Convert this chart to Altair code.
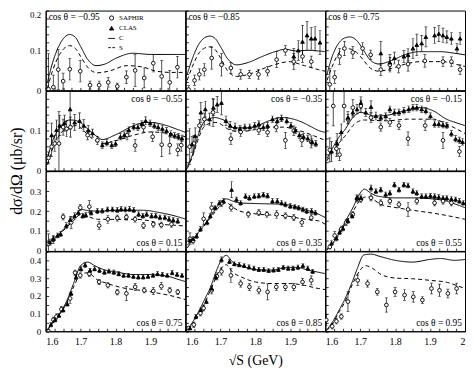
import altair as alt
import pandas as pd

SERIF = "Liberation Serif"

COS_LABELS = ["cos θ = −0.95", "cos θ = −0.85", "cos θ = −0.75",
              "cos θ = −0.55", "cos θ = −0.35", "cos θ = −0.15",
              "cos θ = 0.15", "cos θ = 0.35", "cos θ = 0.55",
              "cos θ = 0.75", "cos θ = 0.85", "cos θ = 0.95"]
ROW_YMAX = [0.2, 0.2, 0.4, 0.45]
SERIES = ["SAPHIR", "CLAS", "C", "S"]

# ---------------- SAPHIR (open circles) ----------------
SAPHIR_X = [
    [1.608, 1.622, 1.636, 1.650, 1.669, 1.699, 1.727, 1.753, 1.779, 1.805, 1.831, 1.856, 1.882, 1.908, 1.932, 1.955, 1.977],
    [1.609, 1.626, 1.640, 1.654, 1.675, 1.703, 1.730, 1.758, 1.783, 1.809, 1.835, 1.861, 1.886, 1.910, 1.935, 1.960],
    [1.613, 1.627, 1.641, 1.655, 1.679, 1.707, 1.730, 1.759, 1.785, 1.810, 1.837, 1.885, 1.937, 1.961, 1.986],
    [1.608, 1.617, 1.626, 1.638, 1.650, 1.660, 1.671, 1.720, 1.748, 1.833, 1.856, 1.880, 1.906, 1.932, 1.955, 1.978, 1.988],
    [1.612, 1.624, 1.640, 1.654, 1.679, 1.730, 1.758, 1.810, 1.835, 1.860, 1.886, 1.910, 1.933, 1.960],
    [1.613, 1.623, 1.632, 1.641, 1.654, 1.665, 1.679, 1.702, 1.731, 1.759, 1.785, 1.811, 1.837, 1.886, 1.937, 1.984],
    [1.608, 1.622, 1.650, 1.673, 1.699, 1.725, 1.753, 1.778, 1.805, 1.831, 1.856, 1.880, 1.908, 1.931, 1.960],
    [1.613, 1.622, 1.652, 1.675, 1.703, 1.731, 1.780, 1.810, 1.833, 1.861, 1.886, 1.910, 1.933, 1.960],
    [1.613, 1.627, 1.646, 1.660, 1.679, 1.691, 1.702, 1.731, 1.759, 1.785, 1.811, 1.837, 1.862, 1.913, 1.937, 1.961],
    [1.608, 1.622, 1.631, 1.645, 1.670, 1.684, 1.699, 1.725, 1.753, 1.778, 1.805, 1.831, 1.856, 1.882, 1.908, 1.931, 1.955, 1.978],
    [1.609, 1.624, 1.643, 1.652, 1.675, 1.690, 1.703, 1.730, 1.758, 1.783, 1.810, 1.835, 1.860, 1.886, 1.910, 1.935, 1.960],
    [1.603, 1.620, 1.632, 1.646, 1.665, 1.693, 1.721, 1.749, 1.775, 1.800, 1.827, 1.852, 1.878, 1.904, 1.927, 1.951, 1.976],
]
SAPHIR_Y = [
    [0.003, 0.008, 0.052, 0.023, 0.053, 0.048, 0.013, 0.013, 0.020, 0.010, 0.033, 0.050, 0.031, 0.068, 0.035, 0.020, 0.058],
    [0.002, 0.025, 0.040, 0.052, 0.081, 0.064, 0.056, 0.040, 0.040, 0.040, 0.048, 0.077, 0.100, 0.072, 0.085, 0.072],
    [0.015, 0.033, 0.085, 0.105, 0.095, 0.105, 0.089, 0.052, 0.064, 0.060, 0.066, 0.074, 0.072, 0.072, 0.052],
    [0.032, 0.060, 0.068, 0.068, 0.109, 0.105, 0.109, 0.089, 0.076, 0.089, 0.063, 0.109, 0.085, 0.065, 0.064, 0.052, 0.064],
    [0.060, 0.068, 0.113, 0.129, 0.146, 0.080, 0.097, 0.101, 0.096, 0.109, 0.076, 0.100, 0.076, 0.072],
    [0.052, 0.162, 0.055, 0.040, 0.162, 0.129, 0.158, 0.162, 0.133, 0.109, 0.121, 0.113, 0.080, 0.113, 0.076, 0.048],
    [0.036, 0.057, 0.171, 0.143, 0.217, 0.222, 0.127, 0.159, 0.165, 0.170, 0.159, 0.127, 0.134, 0.130, 0.134],
    [0.061, 0.050, 0.161, 0.217, 0.238, 0.217, 0.184, 0.192, 0.184, 0.184, 0.176, 0.167, 0.143, 0.167],
    [0.020, 0.077, 0.110, 0.143, 0.184, 0.261, 0.258, 0.266, 0.241, 0.250, 0.233, 0.208, 0.250, 0.241, 0.250, 0.241],
    [0.000, 0.065, 0.083, 0.124, 0.185, 0.330, 0.315, 0.324, 0.278, 0.259, 0.220, 0.213, 0.250, 0.231, 0.227, 0.254, 0.231, 0.222],
    [0.018, 0.037, 0.102, 0.130, 0.231, 0.310, 0.337, 0.315, 0.269, 0.250, 0.231, 0.222, 0.250, 0.250, 0.250, 0.278, 0.287],
    [0.064, 0.028, 0.056, 0.083, 0.167, 0.287, 0.269, 0.222, 0.148, 0.222, 0.204, 0.194, 0.176, 0.241, 0.231, 0.213, 0.241],
]
SAPHIR_E = [
    [0.090, 0.030, 0.050, 0.020, 0.027, 0.027, 0.010, 0.010, 0.012, 0.008, 0.016, 0.040, 0.025, 0.022, 0.040, 0.030, 0.027],
    [0.010, 0.013, 0.014, 0.016, 0.028, 0.028, 0.014, 0.012, 0.010, 0.012, 0.012, 0.020, 0.012, 0.020, 0.015, 0.014],
    [0.040, 0.016, 0.020, 0.018, 0.015, 0.015, 0.012, 0.015, 0.018, 0.016, 0.018, 0.016, 0.012, 0.012, 0.012],
    [0.015, 0.025, 0.020, 0.080, 0.020, 0.020, 0.025, 0.012, 0.010, 0.012, 0.015, 0.012, 0.012, 0.030, 0.022, 0.015, 0.015],
    [0.045, 0.020, 0.015, 0.015, 0.035, 0.014, 0.012, 0.010, 0.010, 0.012, 0.020, 0.012, 0.015, 0.015],
    [0.030, 0.050, 0.020, 0.015, 0.040, 0.012, 0.020, 0.015, 0.012, 0.010, 0.010, 0.010, 0.017, 0.012, 0.020, 0.012],
    [0.050, 0.020, 0.015, 0.030, 0.015, 0.030, 0.020, 0.020, 0.015, 0.015, 0.015, 0.015, 0.015, 0.015, 0.015],
    [0.030, 0.015, 0.030, 0.025, 0.015, 0.018, 0.015, 0.015, 0.015, 0.020, 0.015, 0.015, 0.020, 0.015],
    [0.010, 0.020, 0.015, 0.015, 0.015, 0.015, 0.015, 0.015, 0.015, 0.015, 0.015, 0.035, 0.015, 0.015, 0.015, 0.015],
    [0.010, 0.015, 0.015, 0.015, 0.030, 0.015, 0.015, 0.015, 0.015, 0.015, 0.015, 0.040, 0.020, 0.015, 0.020, 0.020, 0.015, 0.015],
    [0.010, 0.015, 0.015, 0.015, 0.020, 0.020, 0.020, 0.040, 0.020, 0.020, 0.020, 0.045, 0.020, 0.020, 0.020, 0.020, 0.025],
    [0.030, 0.015, 0.015, 0.015, 0.055, 0.030, 0.020, 0.018, 0.040, 0.025, 0.030, 0.030, 0.020, 0.030, 0.035, 0.025, 0.030],
]

# ---------------- CLAS (filled triangles) ----------------
CLAS_X = [
    [],
    [1.910, 1.923, 1.935, 1.948, 1.960, 1.971, 1.985],
    [1.759, 1.785, 1.798, 1.825, 1.837, 1.851, 1.862, 1.876, 1.888, 1.913, 1.925, 1.937, 1.948, 1.961, 1.977, 1.986],
    [1.617, 1.631, 1.640, 1.654, 1.670, 1.683, 1.697, 1.709, 1.722, 1.734,
     1.762, 1.775, 1.789, 1.800, 1.814, 1.825, 1.838, 1.852, 1.864, 1.875,
     1.886, 1.899, 1.911, 1.922, 1.934, 1.946, 1.958, 1.969, 1.980, 1.990],
    [1.619, 1.628, 1.644, 1.657, 1.669, 1.680, 1.691, 1.703, 1.716, 1.728,
     1.742, 1.756, 1.770, 1.784, 1.798, 1.810, 1.823, 1.835, 1.849, 1.863,
     1.875, 1.890, 1.902, 1.915, 1.926, 1.938, 1.950, 1.962, 1.973],
    [1.618, 1.634, 1.646, 1.665, 1.679, 1.691, 1.702, 1.716, 1.731, 1.745,
     1.759, 1.773, 1.785, 1.798, 1.811, 1.825, 1.839, 1.851, 1.862, 1.876,
     1.888, 1.901, 1.913, 1.925, 1.937, 1.948, 1.961, 1.973, 1.984, 1.993],
    [1.612, 1.622, 1.634, 1.643, 1.659, 1.670, 1.683, 1.694, 1.706, 1.715,
     1.730, 1.748, 1.762, 1.777, 1.791, 1.805, 1.816, 1.828, 1.840, 1.852,
     1.866, 1.878, 1.889, 1.903, 1.915, 1.927, 1.941, 1.953, 1.965, 1.978],
    [1.613, 1.622, 1.632, 1.643, 1.662, 1.671, 1.685, 1.697, 1.709, 1.732,
     1.746, 1.758, 1.772, 1.783, 1.797, 1.810, 1.823, 1.835, 1.849, 1.863,
     1.875, 1.886, 1.900, 1.913, 1.924, 1.936, 1.947, 1.961, 1.972],
    [1.618, 1.632, 1.641, 1.651, 1.665, 1.677, 1.691, 1.702, 1.731, 1.745,
     1.759, 1.773, 1.785, 1.798, 1.811, 1.825, 1.837, 1.851, 1.862, 1.876,
     1.888, 1.901, 1.913, 1.925, 1.937, 1.948, 1.961, 1.973, 1.984, 1.995],
    [1.615, 1.627, 1.638, 1.650, 1.662, 1.673, 1.687, 1.701, 1.713, 1.727,
     1.740, 1.754, 1.768, 1.781, 1.795, 1.809, 1.823, 1.837, 1.851, 1.865,
     1.879, 1.893, 1.907, 1.920, 1.934, 1.948, 1.962, 1.976, 1.990],
    [1.613, 1.630, 1.644, 1.660, 1.675, 1.687, 1.703, 1.726, 1.740, 1.754,
     1.768, 1.782, 1.796, 1.810, 1.824, 1.838, 1.852, 1.866, 1.880, 1.894,
     1.908, 1.922, 1.936, 1.950, 1.964],
    [],
]
CLAS_Y = [
    [],
    [0.085, 0.100, 0.122, 0.138, 0.130, 0.130, 0.120],
    [0.093, 0.070, 0.081, 0.085, 0.089, 0.105, 0.114, 0.118, 0.134, 0.138, 0.142, 0.138, 0.134, 0.130, 0.105, 0.130],
    [0.089, 0.102, 0.113, 0.119, 0.154, 0.121, 0.125, 0.113, 0.101, 0.094,
     0.064, 0.070, 0.064, 0.068, 0.085, 0.089, 0.102, 0.110, 0.109, 0.117,
     0.125, 0.119, 0.113, 0.109, 0.105, 0.100, 0.092, 0.088, 0.085, 0.081],
    [0.066, 0.087, 0.146, 0.154, 0.129, 0.158, 0.166, 0.170, 0.125, 0.113,
     0.109, 0.105, 0.109, 0.109, 0.113, 0.117, 0.109, 0.113, 0.129, 0.125,
     0.131, 0.125, 0.113, 0.101, 0.089, 0.085, 0.081, 0.072, 0.068],
    [0.048, 0.068, 0.097, 0.133, 0.146, 0.154, 0.170, 0.146, 0.160, 0.137,
     0.133, 0.137, 0.154, 0.146, 0.146, 0.150, 0.154, 0.158, 0.158, 0.154,
     0.150, 0.137, 0.117, 0.117, 0.115, 0.113, 0.093, 0.080, 0.076, 0.072],
    [0.044, 0.060, 0.077, 0.085, 0.127, 0.156, 0.176, 0.192, 0.176, 0.180,
     0.192, 0.200, 0.202, 0.208, 0.208, 0.205, 0.210, 0.208, 0.210, 0.205,
     0.184, 0.176, 0.184, 0.176, 0.176, 0.168, 0.168, 0.160, 0.155, 0.150],
    [0.053, 0.060, 0.075, 0.110, 0.143, 0.176, 0.217, 0.241, 0.250, 0.307,
     0.258, 0.241, 0.274, 0.266, 0.274, 0.277, 0.282, 0.277, 0.250, 0.250,
     0.241, 0.233, 0.225, 0.222, 0.217, 0.208, 0.200, 0.200, 0.192],
    [0.039, 0.063, 0.094, 0.113, 0.151, 0.176, 0.266, 0.266, 0.315, 0.299,
     0.307, 0.283, 0.291, 0.332, 0.307, 0.332, 0.328, 0.299, 0.291, 0.274,
     0.274, 0.277, 0.274, 0.270, 0.266, 0.266, 0.261, 0.258, 0.250, 0.241],
    [0.037, 0.065, 0.089, 0.120, 0.154, 0.213, 0.306, 0.352, 0.374, 0.343,
     0.352, 0.343, 0.333, 0.339, 0.333, 0.324, 0.315, 0.315, 0.309, 0.306,
     0.306, 0.309, 0.315, 0.324, 0.320, 0.315, 0.330, 0.320, 0.315],
    [0.018, 0.083, 0.120, 0.167, 0.241, 0.306, 0.404, 0.393, 0.380, 0.375,
     0.370, 0.362, 0.355, 0.348, 0.348, 0.342, 0.345, 0.348, 0.360, 0.355,
     0.355, 0.361, 0.370, 0.355, 0.337],
    [],
]
CLAS_E = [
    [],
    [0.020, 0.025, 0.040, 0.035, 0.027, 0.030, 0.030],
    [0.030, 0.020, 0.015, 0.015, 0.015, 0.025, 0.027, 0.020, 0.025, 0.020, 0.020, 0.018, 0.015, 0.015, 0.012, 0.015],
    [0.030, 0.025, 0.025, 0.020, 0.050, 0.020, 0.020, 0.015, 0.012, 0.010,
     0.008, 0.008, 0.008, 0.008, 0.008, 0.008, 0.008, 0.008, 0.008, 0.008,
     0.010, 0.008, 0.008, 0.008, 0.008, 0.008, 0.008, 0.008, 0.008, 0.008],
    [0.020, 0.020, 0.025, 0.020, 0.015, 0.020, 0.020, 0.030, 0.012, 0.010,
     0.010, 0.008, 0.008, 0.008, 0.008, 0.008, 0.008, 0.008, 0.008, 0.008,
     0.008, 0.008, 0.008, 0.008, 0.008, 0.008, 0.008, 0.008, 0.008],
    [0.025, 0.025, 0.020, 0.015, 0.012, 0.012, 0.015, 0.010, 0.015, 0.010,
     0.008, 0.008, 0.008, 0.008, 0.008, 0.008, 0.008, 0.008, 0.008, 0.008,
     0.008, 0.008, 0.008, 0.008, 0.008, 0.008, 0.008, 0.008, 0.008, 0.008],
    [0.015, 0.012, 0.012, 0.012, 0.015, 0.015, 0.015, 0.012, 0.012, 0.012,
     0.012, 0.012, 0.012, 0.012, 0.012, 0.012, 0.012, 0.012, 0.012, 0.012,
     0.012, 0.012, 0.012, 0.012, 0.012, 0.012, 0.012, 0.012, 0.012, 0.012],
    [0.012, 0.012, 0.012, 0.012, 0.012, 0.012, 0.012, 0.012, 0.012, 0.040,
     0.012, 0.012, 0.012, 0.012, 0.012, 0.012, 0.012, 0.012, 0.012, 0.012,
     0.012, 0.012, 0.012, 0.012, 0.012, 0.012, 0.012, 0.012, 0.012],
    [0.012, 0.012, 0.012, 0.012, 0.012, 0.012, 0.015, 0.015, 0.015, 0.012,
     0.012, 0.012, 0.012, 0.012, 0.012, 0.012, 0.012, 0.012, 0.012, 0.012,
     0.012, 0.012, 0.012, 0.012, 0.012, 0.012, 0.012, 0.012, 0.012, 0.012],
    [0.012, 0.012, 0.012, 0.012, 0.012, 0.012, 0.015, 0.015, 0.015, 0.012,
     0.012, 0.012, 0.012, 0.012, 0.012, 0.012, 0.012, 0.012, 0.012, 0.012,
     0.012, 0.012, 0.012, 0.012, 0.012, 0.012, 0.012, 0.012, 0.012],
    [0.010, 0.012, 0.012, 0.012, 0.015, 0.015, 0.015, 0.012, 0.012, 0.012,
     0.012, 0.012, 0.012, 0.012, 0.012, 0.012, 0.012, 0.012, 0.012, 0.012,
     0.012, 0.012, 0.012, 0.012, 0.012],
    [],
]

# ---------------- model C (solid) ----------------
C_X = [
    [1.605, 1.620, 1.640, 1.655, 1.669, 1.685, 1.700, 1.720, 1.744, 1.770, 1.800, 1.850, 1.900, 1.950, 2.000],
    [1.605, 1.620, 1.640, 1.655, 1.670, 1.685, 1.700, 1.720, 1.746, 1.780, 1.820, 1.860, 1.886, 1.915, 1.950, 2.000],
    [1.605, 1.620, 1.640, 1.655, 1.670, 1.690, 1.710, 1.730, 1.754, 1.790, 1.830, 1.871, 1.928, 1.970, 2.000],
    [1.605, 1.620, 1.640, 1.655, 1.669, 1.685, 1.700, 1.720, 1.748, 1.762, 1.800, 1.852, 1.889, 1.920, 1.946, 1.975, 2.000],
    [1.605, 1.620, 1.635, 1.652, 1.668, 1.685, 1.700, 1.720, 1.732, 1.755, 1.793, 1.839, 1.877, 1.924, 1.960, 1.980, 2.000],
    [1.605, 1.620, 1.640, 1.655, 1.679, 1.702, 1.720, 1.740, 1.778, 1.825, 1.872, 1.909, 1.947, 1.975, 2.000],
    [1.605, 1.620, 1.640, 1.660, 1.680, 1.701, 1.730, 1.760, 1.800, 1.850, 1.880, 1.927, 1.960, 2.000],
    [1.605, 1.620, 1.640, 1.660, 1.680, 1.699, 1.717, 1.735, 1.755, 1.793, 1.840, 1.886, 1.942, 1.980, 2.000],
    [1.605, 1.630, 1.655, 1.680, 1.700, 1.712, 1.730, 1.750, 1.800, 1.860, 1.900, 1.947, 1.980, 2.000],
    [1.605, 1.620, 1.640, 1.660, 1.680, 1.700, 1.720, 1.740, 1.770, 1.800, 1.850, 1.900, 1.950, 1.975, 2.000],
    [1.605, 1.620, 1.640, 1.660, 1.670, 1.689, 1.705, 1.717, 1.735, 1.760, 1.800, 1.850, 1.886, 1.920, 1.950, 1.980, 2.000],
    [1.605, 1.620, 1.640, 1.655, 1.679, 1.693, 1.710, 1.730, 1.760, 1.800, 1.850, 1.900, 1.930, 1.970, 2.000],
]
C_Y = [
    [0.020, 0.070, 0.115, 0.134, 0.140, 0.133, 0.110, 0.078, 0.062, 0.066, 0.080, 0.093, 0.090, 0.090, 0.090],
    [0.040, 0.080, 0.118, 0.132, 0.136, 0.130, 0.110, 0.080, 0.064, 0.070, 0.085, 0.098, 0.103, 0.099, 0.100, 0.097],
    [0.040, 0.085, 0.120, 0.131, 0.134, 0.125, 0.100, 0.075, 0.066, 0.075, 0.090, 0.097, 0.097, 0.093, 0.089],
    [0.030, 0.075, 0.108, 0.122, 0.127, 0.126, 0.120, 0.105, 0.085, 0.078, 0.090, 0.113, 0.121, 0.119, 0.113, 0.104, 0.096],
    [0.010, 0.040, 0.085, 0.121, 0.130, 0.133, 0.130, 0.121, 0.109, 0.107, 0.109, 0.125, 0.133, 0.125, 0.110, 0.101, 0.096],
    [0.030, 0.055, 0.085, 0.101, 0.133, 0.146, 0.142, 0.137, 0.139, 0.150, 0.158, 0.150, 0.129, 0.120, 0.113],
    [0.030, 0.055, 0.090, 0.125, 0.165, 0.208, 0.200, 0.200, 0.204, 0.204, 0.204, 0.192, 0.180, 0.160],
    [0.030, 0.055, 0.100, 0.145, 0.195, 0.241, 0.261, 0.250, 0.241, 0.238, 0.236, 0.233, 0.208, 0.185, 0.167],
    [0.010, 0.060, 0.140, 0.220, 0.290, 0.310, 0.290, 0.275, 0.266, 0.266, 0.262, 0.250, 0.230, 0.217],
    [0.010, 0.050, 0.100, 0.170, 0.270, 0.370, 0.390, 0.370, 0.345, 0.335, 0.320, 0.320, 0.310, 0.295, 0.280],
    [0.010, 0.050, 0.120, 0.200, 0.240, 0.343, 0.410, 0.428, 0.390, 0.370, 0.348, 0.345, 0.360, 0.360, 0.345, 0.333, 0.325],
    [0.010, 0.050, 0.120, 0.176, 0.287, 0.360, 0.430, 0.435, 0.420, 0.400, 0.390, 0.405, 0.410, 0.400, 0.405],
]

# ---------------- model S (dashed) ----------------
S_X = [
    [1.605, 1.620, 1.640, 1.655, 1.669, 1.685, 1.700, 1.720, 1.748, 1.780, 1.833, 1.880, 1.917, 1.960, 2.000],
    [1.605, 1.620, 1.640, 1.655, 1.670, 1.685, 1.700, 1.720, 1.746, 1.780, 1.830, 1.870, 1.896, 1.940, 1.980, 2.000],
    [1.605, 1.620, 1.640, 1.655, 1.670, 1.690, 1.710, 1.730, 1.754, 1.790, 1.830, 1.871, 1.937, 1.970, 2.000],
    [1.605, 1.620, 1.640, 1.655, 1.669, 1.685, 1.700, 1.720, 1.748, 1.762, 1.800, 1.852, 1.900, 1.946, 1.975, 2.000],
    [1.605, 1.620, 1.635, 1.652, 1.668, 1.685, 1.700, 1.720, 1.740, 1.760, 1.800, 1.840, 1.880, 1.924, 1.960, 1.980, 2.000],
    [1.605, 1.620, 1.640, 1.655, 1.684, 1.712, 1.740, 1.778, 1.835, 1.909, 1.947, 1.975, 2.000],
    [1.605, 1.620, 1.640, 1.660, 1.680, 1.701, 1.725, 1.748, 1.800, 1.850, 1.900, 1.927, 1.960, 2.000],
    [1.605, 1.620, 1.640, 1.660, 1.680, 1.699, 1.717, 1.735, 1.755, 1.810, 1.886, 1.942, 1.980, 2.000],
    [1.605, 1.630, 1.655, 1.680, 1.700, 1.720, 1.740, 1.760, 1.800, 1.835, 1.928, 2.000],
    [1.605, 1.620, 1.640, 1.660, 1.680, 1.700, 1.720, 1.748, 1.777, 1.820, 1.870, 1.927, 1.970, 2.000],
    [1.605, 1.620, 1.640, 1.660, 1.680, 1.700, 1.717, 1.735, 1.760, 1.800, 1.850, 1.900, 1.940, 1.980, 2.000],
    [1.605, 1.620, 1.640, 1.655, 1.679, 1.700, 1.715, 1.735, 1.760, 1.800, 1.850, 1.900, 1.950, 1.980, 2.000],
]
S_Y = [
    [0.005, 0.050, 0.090, 0.107, 0.112, 0.105, 0.085, 0.058, 0.044, 0.048, 0.062, 0.058, 0.048, 0.045, 0.045],
    [0.025, 0.060, 0.095, 0.106, 0.109, 0.102, 0.082, 0.050, 0.035, 0.040, 0.057, 0.068, 0.072, 0.062, 0.052, 0.048],
    [0.025, 0.060, 0.095, 0.105, 0.104, 0.095, 0.075, 0.055, 0.048, 0.055, 0.066, 0.072, 0.072, 0.066, 0.060],
    [0.015, 0.055, 0.090, 0.104, 0.109, 0.113, 0.108, 0.090, 0.072, 0.068, 0.075, 0.089, 0.097, 0.094, 0.090, 0.085],
    [0.005, 0.035, 0.075, 0.109, 0.118, 0.121, 0.117, 0.105, 0.099, 0.098, 0.103, 0.109, 0.109, 0.101, 0.090, 0.083, 0.076],
    [0.025, 0.045, 0.070, 0.085, 0.117, 0.127, 0.126, 0.125, 0.129, 0.129, 0.117, 0.105, 0.093],
    [0.025, 0.050, 0.085, 0.118, 0.152, 0.184, 0.170, 0.159, 0.158, 0.159, 0.150, 0.134, 0.130, 0.125],
    [0.015, 0.050, 0.095, 0.140, 0.185, 0.225, 0.241, 0.220, 0.200, 0.184, 0.176, 0.159, 0.151, 0.134],
    [0.005, 0.055, 0.130, 0.200, 0.255, 0.272, 0.255, 0.233, 0.218, 0.208, 0.184, 0.159],
    [0.005, 0.045, 0.095, 0.160, 0.250, 0.320, 0.330, 0.290, 0.269, 0.245, 0.231, 0.213, 0.195, 0.178],
    [0.005, 0.040, 0.100, 0.180, 0.270, 0.350, 0.375, 0.333, 0.306, 0.278, 0.269, 0.269, 0.259, 0.241, 0.235],
    [0.005, 0.040, 0.110, 0.160, 0.270, 0.345, 0.370, 0.355, 0.320, 0.300, 0.296, 0.287, 0.275, 0.255, 0.241],
]

# ---------------- styling helpers ----------------
W, H = 141, 80.5
X_TICKS = [round(1.6 + 0.025 * k, 3) for k in range(17)]
Y_STEP = [0.02, 0.02, 0.05, 0.05]
Y_LABEL_LIM = [0.21, 0.15, 0.35, 0.41]
SHAPES = ["circle", "triangle-up", "M-1.6,0L1.6,0", "M-1.6,0L-0.35,0M0.35,0L1.6,0"]
FILLS = ["white", "black", "white", "white"]
STROKES = ["black", "black", "black", "black"]

MAJOR = "abs(datum.value*10 - round(datum.value*10)) < 0.001"


def panel(i):
    r, c = divmod(i, 3)
    ymax = ROW_YMAX[r]
    n_y = int(round(ymax / Y_STEP[r]))
    y_ticks = [round(Y_STEP[r] * k, 3) for k in range(n_y + 1)]

    pts = pd.DataFrame({
        "series": ["SAPHIR"] * len(SAPHIR_X[i]) + ["CLAS"] * len(CLAS_X[i]),
        "x": SAPHIR_X[i] + CLAS_X[i],
        "y": SAPHIR_Y[i] + CLAS_Y[i],
        "e": SAPHIR_E[i] + CLAS_E[i],
    })
    pts["lo"] = pts["y"] - pts["e"]
    pts["hi"] = pts["y"] + pts["e"]
    lines = pd.DataFrame({
        "model": ["C"] * len(C_X[i]) + ["S"] * len(S_X[i]),
        "x": C_X[i] + S_X[i],
        "y": C_Y[i] + S_Y[i],
    })

    if c == 2:
        xlab = f"{MAJOR} ? (datum.value > 1.99 ? '2' : format(datum.value, '.1f')) : ''"
    else:
        xlab = f"{MAJOR} && datum.value < 1.95 ? format(datum.value, '.1f') : ''"
    xaxis_kw = dict(values=X_TICKS, labelExpr=xlab, labels=(r == 3),
                    tickSize=alt.ExprRef(expr="-3"), tickWidth=0.8,
                    labelPadding=8, labelFontSize=10, labelOverlap=False,
                    grid=False, title=None)
    if i == 10:
        xaxis_kw.update(title="√S    (GeV)", titleX=W / 2, titleY=30,
                        titleAlign="center", titleBaseline="middle",
                        titleFontSize=14, titleFontWeight="normal")
    ylab = (f"{MAJOR} && datum.value < {Y_LABEL_LIM[r]} ? "
            "(datum.value < 0.001 ? '0' : format(datum.value, '.1f')) : ''")
    yaxis_kw = dict(values=y_ticks, labelExpr=ylab, labels=(c == 0),
                    tickSize=alt.ExprRef(expr="-3"), tickWidth=0.8,
                    labelPadding=8, labelFontSize=9, labelOverlap=False,
                    grid=False, title=None)
    if r == 0:
        yaxis_kw["labelBaseline"] = {"condition": {"test": "datum.value > 0.19", "value": "top"},
                                     "value": "middle"}
    if i == 3:
        yaxis_kw.update(title="dσ/dΩ (μb/sr)", titleX=-29, titleY=H,
                        titleAngle=270, titleAlign="center",
                        titleBaseline="middle", titleFontSize=16,
                        titleFontWeight="normal")

    xs = alt.Scale(domain=[1.6, 2.0], nice=False, zero=False)
    ys = alt.Scale(domain=[0, ymax], nice=False, zero=False)
    X = alt.X("x:Q", scale=xs, axis=alt.Axis(**xaxis_kw))

    def Y(field):
        return alt.Y(f"{field}:Q", scale=ys, axis=alt.Axis(**yaxis_kw))

    if i == 0:
        leg = alt.Legend(orient="none", legendX=63, legendY=4, title=None,
                         labelFont=SERIF, labelFontSize=7, symbolSize=18,
                         symbolStrokeColor="black", symbolStrokeWidth=0.9,
                         rowPadding=1.3, labelOffset=4, padding=0)
    else:
        leg = None

    line = alt.Chart(lines).mark_line(
        color="black", strokeWidth=1, interpolate="monotone", clip=True
    ).encode(
        x=X, y=Y("y"),
        strokeDash=alt.StrokeDash("model:N", scale=alt.Scale(domain=["C", "S"], range=[[1, 0], [4, 3]]), legend=None),
        detail="model:N",
    )
    base = alt.Chart(pts)
    bars = base.mark_rule(color="black", strokeWidth=0.7, clip=True).encode(
        x=X, y=Y("lo"), y2="hi:Q")
    cap_lo = base.mark_tick(orient="horizontal", size=3, thickness=0.7,
                            color="black", clip=True).encode(x=X, y=Y("lo"))
    cap_hi = base.mark_tick(orient="horizontal", size=3, thickness=0.7,
                            color="black", clip=True).encode(x=X, y=Y("hi"))
    points = base.mark_point(filled=True, size=14, strokeWidth=0.9,
                             opacity=1, clip=True).encode(
        x=X, y=Y("y"),
        shape=alt.Shape("series:N", scale=alt.Scale(domain=SERIES, range=SHAPES), legend=leg),
        fill=alt.Fill("series:N", scale=alt.Scale(domain=SERIES, range=FILLS), legend=leg),
        stroke=alt.Stroke("series:N", scale=alt.Scale(domain=SERIES, range=STROKES), legend=leg),
    )
    if r == 0:
        tx, ty, al = 3, 7, "left"
    elif r == 1:
        tx, ty, al = W - 3, 8, "right"
    else:
        tx, ty, al = W - 3, 72, "right"
    label = alt.Chart(pd.DataFrame({"t": [COS_LABELS[i]]})).mark_text(
        align=al, baseline="middle", font=SERIF, fontSize=9.5, color="black"
    ).encode(text="t:N", x=alt.value(tx), y=alt.value(ty))

    return alt.layer(line, bars, cap_lo, cap_hi, points, label).properties(width=W, height=H)


panels = [panel(i) for i in range(12)]

chart = alt.concat(*panels, columns=3, spacing=0, bounds="flush").resolve_scale(
    shape="independent", fill="independent", stroke="independent"
).resolve_legend(
    shape="independent", fill="independent", stroke="independent"
).properties(
    padding={"left": 0, "top": 0, "right": 0, "bottom": 0}
).configure_view(
    stroke="black", strokeWidth=1
).configure_axis(
    domainColor="black", domainWidth=1, tickColor="black",
    labelColor="black", titleColor="black",
    labelFont=SERIF, titleFont=SERIF,
).configure_text(font=SERIF)

chart.save("out.html", embed_options={"renderer": "svg", "actions": False})
